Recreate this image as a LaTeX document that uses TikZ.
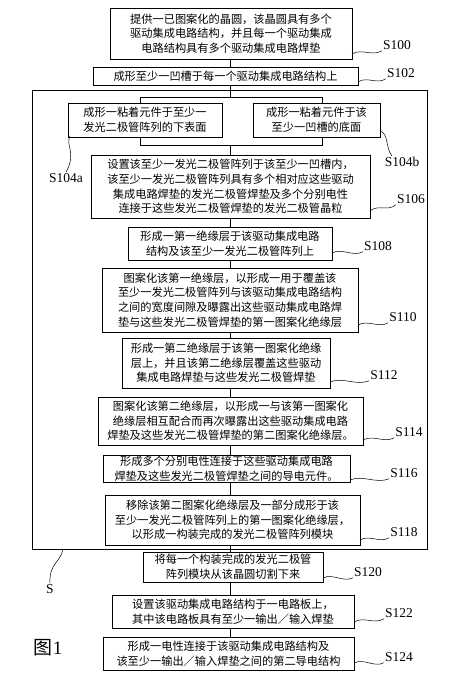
\documentclass[tikz,border=0pt]{standalone}
\usepackage{fontspec}
\setmainfont{Liberation Serif}
\newfontfamily\cjk{Noto Sans CJK SC}
\usetikzlibrary{calc}
\tikzset{
  bx/.style={draw, line width=0.6pt, font=\cjk\fontsize{11.2}{14.6}\selectfont, align=center, inner sep=0pt},
  lbl/.style={font=\fontsize{13.5}{14}\selectfont, inner sep=1pt},
  conn/.style={line width=0.6pt},
  lead/.style={line width=0.5pt}
}
\newcommand\wavylead[2]{\draw[lead] (#1) .. controls ($(#1)!.33!(#2)+(0,-5)$) and ($(#1)!.67!(#2)+(0,5)$) .. (#2);}
\begin{document}
\begin{tikzpicture}[x=1pt,y=-1pt]
\useasboundingbox (0,0) rectangle (474,676);
% outer group box
\node[draw, line width=0.5pt, minimum width=395pt, minimum height=459pt, inner sep=0pt] (grp) at (229.5,319.5) {};
% boxes
\node[bx, minimum width=242pt, minimum height=51pt] (s100) at (231,33.5) {提供一已图案化的晶圆，该晶圆具有多个\\驱动集成电路结构，并且每一个驱动集成\\电路结构具有多个驱动集成电路焊垫};
\node[bx, minimum width=265pt, minimum height=18pt] (s102) at (225.5,76) {成形至少一凹槽于每一个驱动集成电路结构上};
\node[bx, minimum width=154pt, minimum height=34pt] (s104a) at (145,120) {成形一粘着元件于至少一\\发光二极管阵列的下表面};
\node[bx, minimum width=127pt, minimum height=34pt] (s104b) at (316.5,120) {成形一粘着元件于该\\至少一凹槽的底面};
\node[bx, minimum width=279pt, minimum height=63pt] (s106) at (230.5,186.5) {设置该至少一发光二极管阵列于该至少一凹槽内，\\该至少一发光二极管阵列具有多个相对应这些驱动\\集成电路焊垫的发光二极管焊垫及多个分别电性\\连接于这些发光二极管焊垫的发光二极管晶粒};
\node[bx, minimum width=204pt, minimum height=33pt] (s108) at (230,243.5) {形成一第一绝缘层于该驱动集成电路\\结构及该至少一发光二极管阵列上};
\node[bx, minimum width=256pt, minimum height=64pt] (s110) at (230,300) {图案化该第一绝缘层，以形成一用于覆盖该\\至少一发光二极管阵列与该驱动集成电路结构\\之间的宽度间隙及曝露出这些驱动集成电路焊\\垫与这些发光二极管焊垫的第一图案化绝缘层};
\node[bx, minimum width=208pt, minimum height=50pt] (s112) at (226,363) {形成一第二绝缘层于该第一图案化绝缘\\层上，并且该第二绝缘层覆盖这些驱动\\集成电路焊垫与这些发光二极管焊垫};
\node[bx, minimum width=265pt, minimum height=48pt] (s114) at (230.5,421) {图案化该第二绝缘层，以形成一与该第一图案化\\绝缘层相互配合而再次曝露出这些驱动集成电路\\焊垫及这些发光二极管焊垫的第二图案化绝缘层。};
\node[bx, minimum width=247pt, minimum height=27pt] (s116) at (226.5,468.5) {形成多个分别电性连接于这些驱动集成电路\\焊垫及这些发光二极管焊垫之间的导电元件。};
\node[bx, minimum width=255pt, minimum height=50pt] (s118) at (232.5,520) {移除该第二图案化绝缘层及一部分成形于该\\至少一发光二极管阵列上的第一图案化绝缘层，\\以形成一构装完成的发光二极管阵列模块};
\node[bx, minimum width=180pt, minimum height=30pt] (s120) at (233,567) {将每一个构装完成的发光二极管\\阵列模块从该晶圆切割下来};
\node[bx, minimum width=242pt, minimum height=33pt] (s122) at (233,611.5) {设置该驱动集成电路结构于一电路板上，\\其中该电路板具有至少一输出／输入焊垫};
\node[bx, minimum width=251pt, minimum height=33pt] (s124) at (228.5,653.5) {形成一电性连接于该驱动集成电路结构及\\该至少一输出／输入焊垫之间的第二导电结构};
% heavy right/bottom edges
\foreach \n in {s100,s102,s104a,s104b,s106,s108,s110,s112,s114,s116,s118,s120,s122,s124}
  \draw[line width=1.3pt] (\n.north east) -- (\n.south east) -- (\n.south west);
% connectors
\coordinate (spine) at (230,0);
\coordinate (splitA) at (230,97);
\coordinate (joinB) at (230,145);
\draw[conn] (s100.south -| spine) -- (s102.north -| spine);
\draw[conn] (s102.south -| spine) -- (splitA);
\draw[conn] (s104a.north -| 140,0) -- (splitA -| 140,0) -- (splitA -| 322,0) -- (s104b.north -| 322,0);
\draw[conn] (s104a.south -| 140,0) -- (joinB -| 140,0) -- (joinB -| 322,0) -- (s104b.south -| 322,0);
\draw[conn] (joinB) -- (s106.north -| spine);
\draw[conn] (s106.south -| spine) -- (s108.north -| spine);
\draw[conn] (s108.south -| spine) -- (s110.north -| spine);
\draw[conn] (s110.south -| spine) -- (s112.north -| spine);
\draw[conn] (s112.south -| spine) -- (s114.north -| spine);
\draw[conn] (s114.south -| spine) -- (s116.north -| spine);
\draw[conn] (s116.south -| spine) -- (s118.north -| spine);
\draw[conn] (s118.south -| spine) -- (s120.north -| spine);
\draw[conn] (s120.south -| spine) -- (s122.north -| spine);
\draw[conn] (s122.south -| spine) -- (s124.north -| spine);
% labels
\node[lbl] (l100) at (397,45) {S100};
\node[lbl] (l102) at (401,73) {S102};
\node[lbl] (l104a) at (66,178) {S104a};
\node[lbl] (l104b) at (402,162) {S104b};
\node[lbl] (l106) at (411,199) {S106};
\node[lbl] (l108) at (378,246) {S108};
\node[lbl] (l110) at (403,317) {S110};
\node[lbl] (l112) at (384,375) {S112};
\node[lbl] (l114) at (409,432) {S114};
\node[lbl] (l116) at (404,473) {S116};
\node[lbl] (l118) at (404,532) {S118};
\node[lbl] (l120) at (368,572) {S120};
\node[lbl] (l122) at (399,613) {S122};
\node[lbl] (l124) at (399,657) {S124};
\node[lbl] (lS) at (50,589) {S};
\node[font=\fontsize{19}{20}\selectfont, inner sep=0pt] (fig) at (48,648) {{\cjk 图}1};
% leader lines
\coordinate (a100) at (352,54);   \wavylead{a100}{l100.south west}
\coordinate (a102) at (358,82);   \wavylead{a102}{l102.south west}
\coordinate (a106) at (370,211);  \wavylead{a106}{l106.south west}
\coordinate (a108) at (332,253);  \wavylead{a108}{l108.south west}
\coordinate (a110) at (358,325);  \wavylead{a110}{l110.south west}
\coordinate (a112) at (330,382);  \wavylead{a112}{l112.south west}
\coordinate (a114) at (363,440);  \wavylead{a114}{l114.south west}
\coordinate (a116) at (350,480);  \wavylead{a116}{l116.south west}
\coordinate (a118) at (360,540);  \wavylead{a118}{l118.south west}
\coordinate (a120) at (323,578);  \wavylead{a120}{l120.south west}
\coordinate (a122) at (354,622);  \wavylead{a122}{l122.south west}
\coordinate (a124) at (354,663);  \wavylead{a124}{l124.south west}
\coordinate (a104a) at (70,136);
\draw[lead] (a104a) .. controls (65,146) and (77,152) .. (l104a.north);
\coordinate (a104b) at (380,131);
\draw[lead] (a104b) .. controls (389,134) and (385,147) .. (l104b.north -| 392,0);
\coordinate (aS) at (63,549);
\draw[lead] (aS) .. controls (61,562) and (49,563) .. (lS.north);
\end{tikzpicture}
\end{document}
